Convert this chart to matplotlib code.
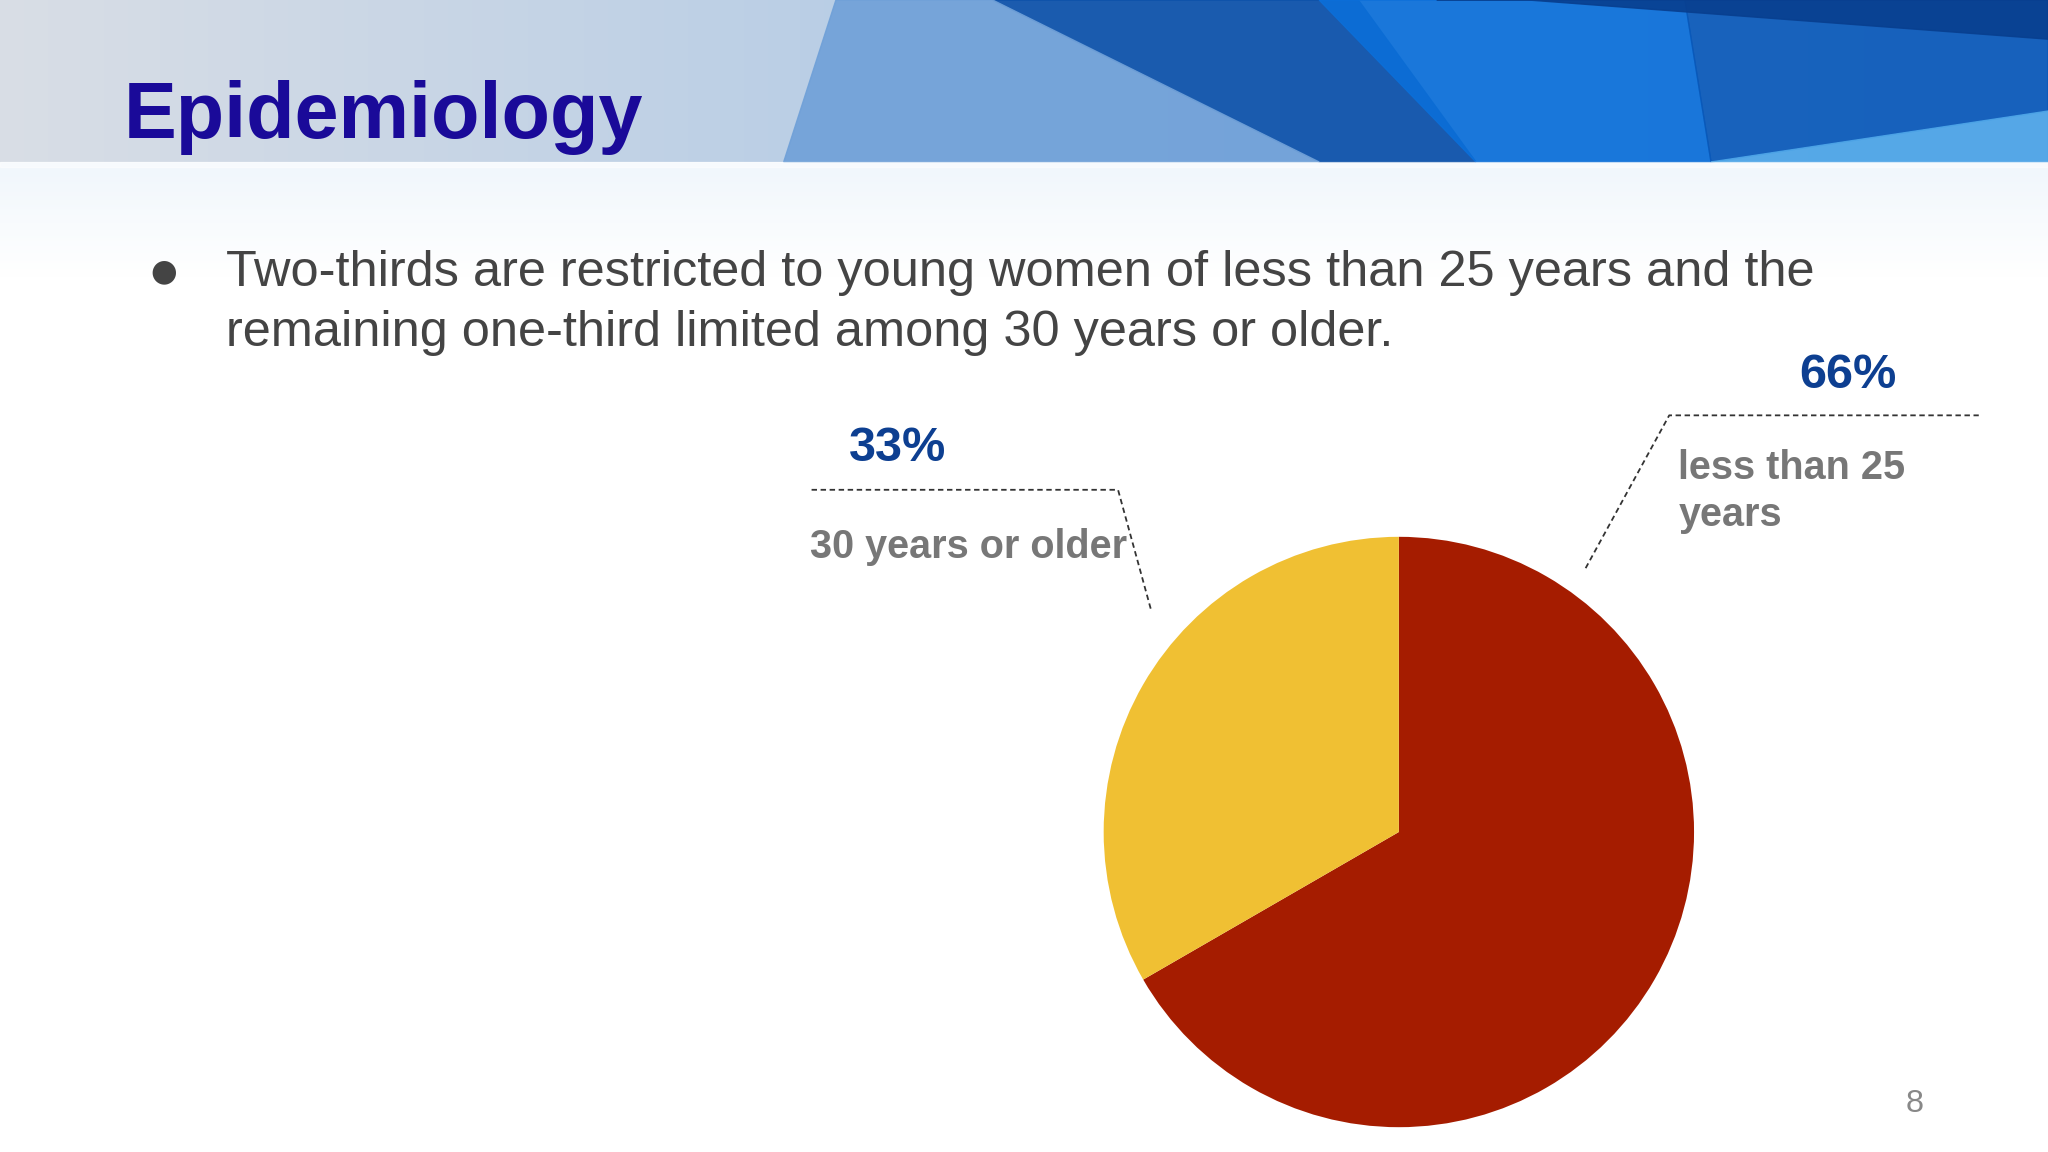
import matplotlib
matplotlib.use("Agg")
import matplotlib.pyplot as plt
import numpy as np
from matplotlib.patches import Polygon

categories = ["less than 25\nyears", "30 years or older"]
values = [66, 33]
pct_labels = ["66%", "33%"]
colors = ["#A51C00", "#F0C033"]

W, H = 1568, 882
fig = plt.figure(figsize=(20.48, 11.52), dpi=100)
bg = fig.add_axes([0, 0, 1, 1])
bg.set_xlim(0, W); bg.set_ylim(H, 0); bg.axis("off")

img = np.ones((256, 256, 3))
base = np.array([0.86, 0.92, 0.97])
for i in range(256):
    t = min(1, i / 120)
    img[i, :, :] = base * (1 - t) + np.array([1, 1, 1]) * t
bg.imshow(img, extent=[0, W, 450, 0], aspect="auto", zorder=0)
bg.add_patch(plt.Rectangle((0, 450), W, H - 450, color="white", zorder=0))
band = np.zeros((10, 256, 3))
for j in range(256):
    t = j / 255
    band[:, j, :] = np.array([0.85, 0.87, 0.9]) * (1 - t) + np.array([0.55, 0.72, 0.9]) * t
bg.imshow(band, extent=[0, W, 124, 0], aspect="auto", zorder=1)
polys = [
    ([(760, 0), (1040, 0), (1130, 124), (1010, 124)], "#0A4FA8"),
    ([(1010, 0), (1290, 0), (1310, 124), (1130, 124)], "#0B6FD9"),
    ([(1290, 0), (1568, 0), (1568, 85), (1310, 124)], "#0A58B8"),
    ([(1310, 124), (1568, 85), (1568, 124)], "#4FA6E8"),
    ([(640, 0), (760, 0), (1010, 124), (600, 124)], "#6FA0D8"),
    ([(1100, 0), (1170, 0), (1568, 30), (1568, 0)], "#083F8F"),
]
for pts, c in polys:
    bg.add_patch(Polygon(pts, closed=True, color=c, alpha=0.9, zorder=2))
bg.add_patch(plt.Rectangle((0, 124), W, 4, color="white", alpha=0.5, zorder=3))

s = 1.306 * 0.72 * 1.38
F = "Liberation Sans"
bg.text(95, 106, "Epidemiology", fontsize=44 * s, color="#1A0A99",
        fontweight="bold", va="baseline", zorder=5, family=F)
bg.text(115, 208, "●", fontsize=17 * s, color="#444444", va="center", zorder=5)
bg.text(173, 219, "Two-thirds are restricted to young women of less than 25 years and the",
        fontsize=28 * s, color="#444444", va="baseline", family=F, zorder=5)
bg.text(173, 265, "remaining one-third limited among 30 years or older.",
        fontsize=28 * s, color="#444444", va="baseline", family=F, zorder=5)

cx, cy, r = 1071, 637, 226
pax = fig.add_axes([(cx - r) / W, (H - cy - r) / H, 2 * r / W, 2 * r / H])
pax.pie(values, colors=colors, startangle=90, counterclock=False,
        wedgeprops=dict(linewidth=0))
pax.set_xlim(-1, 1); pax.set_ylim(-1, 1)
pax.set_aspect("equal")

bg.plot([1214, 1278, 1515], [435, 318, 318], ls=(0, (3, 2)), color="#333333", lw=1.3, zorder=5)
bg.plot([881, 856, 620], [466, 375, 375], ls=(0, (3, 2)), color="#333333", lw=1.3, zorder=5)
bg.text(1415, 297, pct_labels[0], fontsize=27 * s, color="#0D3F91", fontweight="bold",
        ha="center", va="baseline", family=F, zorder=5)
bg.text(1285, 367, categories[0].split("\n")[0], fontsize=22 * s, color="#777777", fontweight="bold",
        va="baseline", family=F, zorder=5)
bg.text(1285, 403, categories[0].split("\n")[1], fontsize=22 * s, color="#777777", fontweight="bold",
        va="baseline", family=F, zorder=5)
bg.text(687, 353, pct_labels[1], fontsize=27 * s, color="#0D3F91", fontweight="bold",
        ha="center", va="baseline", family=F, zorder=5)
bg.text(620, 427, categories[1], fontsize=22 * s, color="#777777", fontweight="bold",
        va="baseline", family=F, zorder=5)
bg.text(1466, 851, "8", fontsize=18 * s, color="#888888", ha="center", va="baseline",
        family=F, zorder=5)

fig.savefig("out.png", dpi=100)
